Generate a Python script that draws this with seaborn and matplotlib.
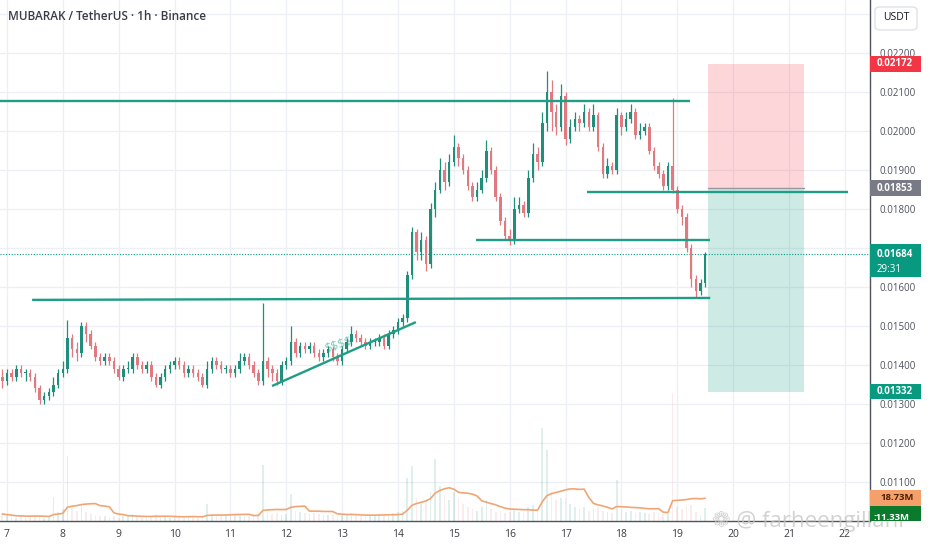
import numpy as np
import pandas as pd
import matplotlib
matplotlib.use("Agg")
import matplotlib.pyplot as plt
import seaborn as sns
from matplotlib.patches import Rectangle, FancyBboxPatch

# --- DATA (2h bars) ---
TITLE = "MUBARAK / TetherUS · 1h · Binance"
FIRST_DAY = 6.916
STEP = 1 / 12
FIRST_OPEN = 0.0137

closes = [
    0.0136, 0.0138, 0.0137, 0.0139, 0.0138, 0.0138, 0.0137, 0.0134, 0.0131, 0.0132,
    0.0133, 0.0135, 0.0138, 0.0139, 0.0147, 0.0144, 0.0143, 0.0150, 0.0148, 0.0145,
    0.0142, 0.0141, 0.0142, 0.0141, 0.0139, 0.0137, 0.0139, 0.0139, 0.0142, 0.0140,
    0.0139, 0.0140, 0.0137, 0.0135, 0.0137, 0.0139, 0.0140, 0.0141, 0.0140, 0.0138,
    0.0139, 0.0138, 0.0137, 0.0135, 0.0139, 0.0141, 0.0140, 0.0139, 0.0139, 0.0138,
    0.0139, 0.0141, 0.0142, 0.0140, 0.0138, 0.0136, 0.0141, 0.0139, 0.0138, 0.0136,
    0.0140, 0.0141, 0.0146, 0.0143, 0.0145, 0.0144, 0.0145, 0.0143, 0.0142, 0.0143,
    0.0144, 0.0142, 0.0141, 0.0144, 0.0146, 0.0148, 0.0147, 0.0146, 0.0145, 0.0146,
    0.0146, 0.0147, 0.0145, 0.0148, 0.0149, 0.0151, 0.0152, 0.0163, 0.0174, 0.0169,
    0.0172, 0.0166, 0.0180, 0.0185, 0.0190, 0.0187, 0.0192, 0.0196, 0.0193, 0.0190,
    0.0186, 0.0183, 0.0185, 0.0188, 0.0195, 0.0190, 0.0183, 0.0177, 0.0173, 0.0172,
    0.0180, 0.0181, 0.0179, 0.0188, 0.0194, 0.0192, 0.0202, 0.0210, 0.0205, 0.0201,
    0.0209, 0.0198, 0.0201, 0.0203, 0.0202, 0.0205, 0.0201, 0.0204, 0.0196, 0.0189,
    0.0191, 0.0190, 0.0204, 0.0201, 0.0203, 0.0205, 0.0199, 0.0200, 0.0201, 0.0195,
    0.0191, 0.0189, 0.0186, 0.0191, 0.0185, 0.0180, 0.0178, 0.0170, 0.0162, 0.0159,
    0.0161, 0.01684,
]
highs = [
    0.0139, 0.0139, 0.0139, 0.0140, 0.0140, 0.0139, 0.0139, 0.0138, 0.0135, 0.0133,
    0.0134, 0.0137, 0.0139, 0.0141, 0.01515, 0.0148, 0.0146, 0.0151, 0.0151, 0.0149,
    0.0146, 0.0143, 0.0143, 0.0143, 0.0142, 0.0140, 0.0140, 0.0141, 0.0143, 0.0143,
    0.0141, 0.0141, 0.0141, 0.0138, 0.0138, 0.0140, 0.0141, 0.0142, 0.0142, 0.0141,
    0.0140, 0.0140, 0.0139, 0.0138, 0.0141, 0.0142, 0.0142, 0.0141, 0.0140, 0.0140,
    0.0140, 0.0143, 0.0143, 0.0143, 0.0141, 0.0139, 0.0156, 0.0142, 0.0140, 0.0139,
    0.0141, 0.0142, 0.0150, 0.0147, 0.0146, 0.0146, 0.0146, 0.0146, 0.0144, 0.0144,
    0.0145, 0.0145, 0.0143, 0.0145, 0.0147, 0.0150, 0.0149, 0.0148, 0.0147, 0.0147,
    0.0147, 0.0148, 0.0148, 0.0149, 0.0150, 0.0152, 0.0153, 0.0164, 0.01755, 0.0175,
    0.0174, 0.0173, 0.01815, 0.0187, 0.0193, 0.0192, 0.0194, 0.0199, 0.0197, 0.0194,
    0.0191, 0.0187, 0.0187, 0.0190, 0.01977, 0.0196, 0.0191, 0.0184, 0.0178, 0.0175,
    0.0183, 0.0183, 0.0182, 0.0190, 0.0197, 0.0196, 0.0205, 0.02155, 0.0213, 0.0207,
    0.0212, 0.0210, 0.0203, 0.0205, 0.0204, 0.0207, 0.0206, 0.0207, 0.0205, 0.0197,
    0.0193, 0.0192, 0.0206, 0.0205, 0.0205, 0.0207, 0.0206, 0.0202, 0.0202, 0.0202,
    0.0196, 0.0192, 0.0190, 0.0192, 0.02085, 0.0186, 0.0181, 0.0179, 0.0171, 0.0163,
    0.0162, 0.0169,
]
lows = [
    0.0134, 0.0135, 0.0136, 0.0136, 0.0137, 0.0136, 0.0136, 0.0133, 0.0130, 0.0130,
    0.0131, 0.0132, 0.0134, 0.0137, 0.0138, 0.0142, 0.0141, 0.0142, 0.0146, 0.0144,
    0.0141, 0.0140, 0.0140, 0.0140, 0.0138, 0.01361, 0.0136, 0.0138, 0.0138, 0.0139,
    0.0138, 0.0138, 0.0136, 0.01344, 0.0134, 0.0136, 0.0138, 0.0139, 0.0139, 0.0137,
    0.0137, 0.0137, 0.0136, 0.01344, 0.0134, 0.0138, 0.0139, 0.0138, 0.0138, 0.0137,
    0.0137, 0.0138, 0.0140, 0.0139, 0.0137, 0.01349, 0.0135, 0.0137, 0.0136, 0.0135,
    0.0135, 0.0139, 0.0140, 0.0142, 0.0142, 0.0143, 0.0143, 0.0142, 0.0141, 0.0141,
    0.0142, 0.0141, 0.0140, 0.0140, 0.0143, 0.0145, 0.0146, 0.0145, 0.0144, 0.0144,
    0.0145, 0.0145, 0.0144, 0.0144, 0.0147, 0.0148, 0.0150, 0.0151, 0.0162, 0.0167,
    0.0167, 0.0164, 0.0165, 0.0178, 0.0184, 0.0185, 0.0186, 0.0191, 0.0191, 0.0189,
    0.0185, 0.0182, 0.0182, 0.0184, 0.0187, 0.0189, 0.0182, 0.0176, 0.0172, 0.01708,
    0.0171, 0.0179, 0.0178, 0.0178, 0.0187, 0.0190, 0.0191, 0.0200, 0.0200, 0.0199,
    0.0200, 0.01964, 0.0197, 0.0200, 0.0200, 0.0201, 0.0200, 0.0200, 0.0195, 0.0188,
    0.0188, 0.0189, 0.0189, 0.0199, 0.0200, 0.0202, 0.0198, 0.0198, 0.0199, 0.0194,
    0.0190, 0.0188, 0.01848, 0.0185, 0.0184, 0.0179, 0.0176, 0.0169, 0.0160, 0.01574,
    0.0158, 0.0160,
]
volumes = [  # millions
    6, 5, 4, 3, 4, 3, 4, 5, 4, 3, 4, 21, 8, 10, 56, 12, 9, 14, 8, 6,
    5, 4, 4, 3, 4, 3, 4, 5, 6, 4, 3, 3, 4, 5, 3, 4, 3, 4, 4, 3,
    4, 4, 3, 4, 15, 6, 4, 4, 4, 5, 6, 5, 4, 4, 5, 6, 48, 8, 6, 7,
    5, 6, 23, 9, 8, 7, 6, 7, 6, 5, 5, 5, 4, 5, 6, 7, 5, 4, 5, 4,
    5, 6, 5, 6, 7, 8, 9, 37, 47, 20, 15, 18, 25, 53, 30, 22, 18, 25, 20, 15,
    12, 10, 9, 12, 18, 10, 8, 9, 7, 8, 10, 8, 7, 12, 14, 10, 80, 61, 25, 18,
    20, 20, 15, 12, 10, 12, 9, 10, 12, 9, 8, 7, 35, 10, 8, 9, 7, 8, 7, 6,
    8, 7, 6, 6, 110, 12, 10, 12, 14, 8, 5, 11.33,
]

day_ticks = list(range(7, 23))
price_ticks = [0.011, 0.012, 0.013, 0.014, 0.015, 0.016, 0.017,
               0.018, 0.019, 0.020, 0.021, 0.022]

# drawn lines: (day start, day end, price start, price end)
drawn_lines = [
    (6.875, 19.23, 0.02077, 0.02077),
    (17.385, 22.06, 0.01844, 0.01844),
    (15.40, 19.59, 0.01720, 0.01720),
    (7.45, 19.59, 0.01567, 0.01572),
    (11.745, 14.32, 0.013462, 0.0151),
]
trade_days = (19.55, 21.27)
stop_price, entry_price, target_price = 0.02172, 0.01853, 0.01332
last_price = 0.01684
countdown = "29:31"
vol_ma_label = "18.73M"
vol_label = "11.33M"
watermark = "❁ @ farheengillani"

UP, DOWN = "#1f8f7b", "#e07a80"
LINE = "#1f9d86"

df = pd.DataFrame({"close": closes, "high": highs, "low": lows, "volume": volumes})
df["open"] = [FIRST_OPEN] + closes[:-1]
df["day"] = FIRST_DAY + STEP * np.arange(len(df))
df["up"] = df["close"] >= df["open"]
df["vol_ma"] = df["volume"].rolling(10, min_periods=1).mean()
colors = np.where(df["up"], UP, DOWN)

sns.set_theme(style="white")
plt.rcParams["font.family"] = ["Open Sans", "DejaVu Sans"]
plt.rcParams["text.parse_math"] = False

W, H = 932, 550
fig = plt.figure(figsize=(W / 100, H / 100), dpi=100)
ax = fig.add_axes([0, 29 / H, 870 / W, 521 / H])
ax.set_xlim(6.875, 22.45)
ax.set_ylim(0.0100, 0.02336)

# grid
ax.set_xticks(day_ticks)
ax.set_xticklabels([str(d) for d in day_ticks])
ax.set_yticks(price_ticks)
ax.set_yticklabels([f"{p:.5f}" for p in price_ticks])
ax.grid(True, color="#eceff3", lw=0.9)
ax.axhline(0.023, color="#eceff3", lw=0.9, zorder=0)
ax.set_axisbelow(True)
ax.yaxis.tick_right()
ax.tick_params(axis="y", length=0, pad=7, labelsize=7, labelcolor="#50535e")
ax.tick_params(axis="x", length=0, pad=6, labelsize=7.5, labelcolor="#3a3d45")
for s in ["left", "top"]:
    ax.spines[s].set_visible(False)
for s in ["right", "bottom"]:
    ax.spines[s].set_color("#50535e")
    ax.spines[s].set_linewidth(1)

# position tool
ax.add_patch(Rectangle((trade_days[0], entry_price), trade_days[1] - trade_days[0],
                       stop_price - entry_price, color="#f23645", alpha=0.2, lw=0))
ax.add_patch(Rectangle((trade_days[0], target_price), trade_days[1] - trade_days[0],
                       entry_price - target_price, color="#089981", alpha=0.2, lw=0))
ax.plot(trade_days, [entry_price, entry_price], color="#9598a1", lw=1)

# current price dotted line
ax.axhline(last_price, color="#089981", ls=(0, (1, 1.5)), lw=0.8)

# candles
body_lo = np.minimum(df["open"], df["close"])
body_h = np.maximum((df["close"] - df["open"]).abs(), 0.00003)
ax.vlines(df["day"], df["low"], df["high"], colors=colors, lw=0.9, zorder=3)
ax.bar(df["day"], body_h, bottom=body_lo, width=0.045, color=colors, lw=0, zorder=3)

# drawings
for d0, d1, p0, p1 in drawn_lines:
    ax.plot([d0, d1], [p0, p1], color=LINE, lw=1.7, solid_capstyle="butt", zorder=4)
ax.text(12.93, 0.01452, "$$$$", color=LINE, alpha=0.55, fontsize=9,
        rotation=18, ha="center", va="center", zorder=4)

# right-axis price labels
ytr = ax.get_yaxis_transform()
px = 1 / 39000


def price_tag(price, text, color, txtcolor="white", h=16):
    ax.add_patch(Rectangle((1.0, price - h / 2 * px), 0.059, h * px, transform=ytr,
                           color=color, clip_on=False, zorder=6, lw=0))
    ax.text(1.008, price, text, transform=ytr, color=txtcolor, fontsize=7,
            weight="bold", va="center", ha="left", zorder=7, clip_on=False)


price_tag(stop_price, f"{stop_price:.5f}", "#f23645")
price_tag(entry_price, f"{entry_price:.5f}", "#787b86")
price_tag(target_price, f"{target_price:.5f}", "#089981", h=15)
ax.add_patch(Rectangle((1.0, last_price - 23 * px), 0.059, 33 * px, transform=ytr,
                       color="#089981", clip_on=False, zorder=6, lw=0))
ax.text(1.008, last_price, f"{last_price:.5f}", transform=ytr, color="white",
        fontsize=7, weight="bold", va="center", zorder=7, clip_on=False)
ax.text(1.008, last_price - 15 * px, countdown, transform=ytr, color="white",
        fontsize=7, va="center", zorder=7, clip_on=False)

# volume pane (drawn above the watermark so its tags stay readable)
vax = fig.add_axes([0, 29 / H, 870 / W, 140 / H])
vax.set_zorder(5)
vax.set_xlim(ax.get_xlim())
vax.set_ylim(0, 120)
vax.patch.set_visible(False)
vax.axis("off")
vax.bar(df["day"], df["volume"], width=0.03, color=colors, alpha=0.14, lw=0)
sns.lineplot(data=df, x="day", y="vol_ma", ax=vax, color="#f2a574", lw=1.2)
vtr = vax.get_yaxis_transform()
ma_last = df["vol_ma"].iloc[-1]
vax.add_patch(Rectangle((1.0, ma_last - 7), 0.059, 14, transform=vtr,
                        color="#f5a06b", clip_on=False, zorder=6, lw=0))
vax.text(1.012, ma_last + 0.5, vol_ma_label, transform=vtr, color="#4a2000",
         fontsize=6.8, weight="bold", va="center", zorder=7, clip_on=False)
vax.add_patch(Rectangle((1.0, 0), 0.059, ma_last - 7, transform=vtr,
                        color="#0b7a2d", clip_on=False, zorder=6, lw=0))
vax.text(1.004, 3, ":" + vol_label, transform=vtr, color="white",
         fontsize=6.8, weight="bold", va="center", zorder=7, clip_on=False)

# header and badges
fig.text(8 / W, 1 - 16 / H, TITLE, fontsize=8.5, color="#3a3d45", va="center",
         weight="semibold")
fig.patches.append(FancyBboxPatch((875 / W, 1 - 30 / H), 42 / W, 23 / H,
                                  boxstyle="round,pad=0,rounding_size=0.006",
                                  transform=fig.transFigure, fc="white",
                                  ec="#e0e3eb", lw=1))
fig.text(896 / W, 1 - 18 / H, "USDT", fontsize=7.5, color="#131722",
         ha="center", va="center")
fig.text(712 / W, 1 - 521 / H, watermark, fontsize=16, color="#c4c4c4",
         alpha=0.75, va="center", ha="left")

fig.savefig("out.png", dpi=100)
